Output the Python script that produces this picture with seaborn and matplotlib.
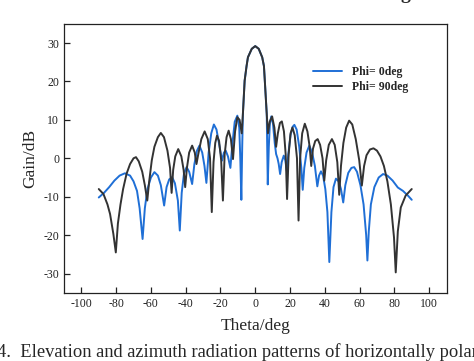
import matplotlib
matplotlib.use('Agg')
import matplotlib.pyplot as plt
import seaborn as sns
import pandas as pd

# Gain pattern (theta in deg, gain in dB)
theta_90 = [-90, -87.3, -85, -83.5, -81.6, -80.2, -79, -77.5, -76, -74, -72, -70, -68.6, -67, -65,
            -63.5, -62.1, -61, -59.5, -58, -56, -54.3, -52.5, -50.5, -49, -48.1, -47.2, -46, -44.3,
            -42.5, -41.2, -40.3, -39.3, -38, -36.3, -34.8, -33.8, -32.8, -31, -29.1, -27.3, -26, -25,
            -24, -23, -22, -20.8, -19.6, -18.6, -17.6, -16.5, -15.3, -14, -12.8, -11.6, -10.3, -9,
            -7.8, -7.1, -6.1, -5, -4.2, -2, 0, 2, 4, 5, 5.5, 6.6, 7.3, 8.3, 9.7, 11, 12, 13, 14.2,
            15.3, 16.5, 17.5, 18.3, 19.2, 20.3, 21.4, 22.7, 24, 24.9, 25.8, 27, 28.5, 30, 31.3, 32.2,
            33.2, 34.5, 35.9, 37.3, 38.7, 39.7, 40.8, 42.3, 44.1, 45.7, 47.2, 48.3, 49.3, 50.7, 52.3,
            54, 55.8, 57.8, 59.8, 61.3, 62.6, 64, 66, 68, 70, 72, 74, 76, 78, 79.8, 80.8, 82, 83.7,
            86.5, 90]
gain_90 = [-8, -9.3, -12, -14.5, -19.7, -24.5, -17, -12, -8, -4, -1.5, 0, 0.3, -0.8, -3.5,
           -7, -11, -6, -0.5, 3, 5.5, 6.6, 5.5, 2, -2.5, -9, -3, 0.5, 2.4,
           0.5, -3, -7.5, -2.5, 1.5, 3.3, 1.5, -1.5, 1, 5, 7, 5, 0, -14,
           -1, 4, 5.9, 4.5, -0.5, -11, 1, 5.5, 7.2, 5, -0.2, 7, 10.7, 10,
           6.5, 11.6, 20.2, 24, 26.3, 28.5, 29.2, 28.5, 26.3, 24, 20.2, 11.6, 6.5, 9.5, 10.9, 8, 3, 6.5, 9.2,
           9.6, 7, 1, -10.6, 1, 6.5, 8, 6, 0, -16.2, 0, 6.5, 9, 7, 3, -2,
           2.5, 4.5, 5, 3.5, 0, -5.8, -0.5, 3.5, 5, 3.5, -1, -9.5, -2, 4, 8,
           9.8, 8.8, 5, -0.5, -7.1, -2, 0.8, 2.3, 2.6, 2, 0.5, -2, -6, -12, -20.6, -29.7, -19, -12.8,
           -9.7, -8]

theta_0 = [-90, -87, -84, -81, -78, -75, -72, -70, -68, -66.5, -64.8, -63.5, -62, -60, -58, -56,
           -54.3, -52.4, -51, -49.5, -47.8, -46.2, -44.5, -43.4, -42.3, -41, -39.5, -38, -36.3, -35,
           -33.5, -32.1, -30.5, -29.2, -28.1, -26.8, -25.3, -23.8, -22.3, -20.5, -19.1, -18, -17,
           -15.7, -14.3, -13.2, -11.8, -10.3, -9.2, -8.6, -8, -7.5, -7.1, -6.1, -5, -4.2, -2, 0, 2,
           4, 5, 5.5, 6.6, 7.2, 7.8, 8.4, 9.2, 10.2, 11.2, 12, 12.8, 13.5, 14.3, 15.2, 16.4, 17.3,
           18.1, 19, 20.3, 21.5, 22.5, 23.8, 25.3, 26.5, 27.3, 28.2, 29.5, 31.1, 32.7, 34.3, 35.7,
           36.7, 37.8, 39, 40.3, 41.5, 42.6, 43.8, 45, 46.4, 48, 49.3, 50.6, 51.8, 53.5, 55.3, 56.9,
           58.5, 60.5, 62.3, 63.8, 64.5, 65.3, 66.5, 68.5, 71, 73.5, 76, 79, 82, 85, 88, 90]
gain_0 = [-10.2, -9, -7.5, -5.8, -4.5, -3.9, -4.5, -6, -8.5, -13, -21, -13, -8, -5, -3.6, -4.5,
          -7, -12.3, -7.5, -5.5, -4.9, -6.5, -11, -18.8, -9, -4, -2.3, -3.5, -6.7, -1.5,
          2, 3.3, 1.5, -2, -6.4, 1.5, 6.5, 8.8, 7.5, 3, -0.6, 1.5, 2,
          0.5, -2.5, 3.5, 9.5, 11.1, 8, 0, -10.8, 3, 11.6, 20.2, 24, 26.3, 28.5, 29.2, 28.5,
          26.3, 24, 20.2, 11.6, -6.8, 3, 9, 10.9, 9, 4, 1.1, 0, -1.5, -4.1, -1, 0.7, -0.5,
          -3.2, 1, 6, 8.2, 8.7, 7.5, 3, -2.5, -8.2, -2.5, 1.5, 3.3, 1.5, -2, -7.3,
          -4.5, -3.4, -4.5, -8, -14, -27, -14, -7.5, -5.3, -6, -8, -11.5, -7, -3.8, -2.5, -2.3,
          -3.5, -7, -12, -20, -26.6, -19, -12, -7.5, -5, -4.1, -4.5, -5.8, -7.6, -8.5, -9.8, -10.8]

x_ticks = [-100, -80, -60, -40, -20, 0, 20, 40, 60, 80, 100]
y_ticks = [-30, -20, -10, 0, 10, 20, 30]

df0 = pd.DataFrame({'theta': theta_0, 'gain': gain_0})
df90 = pd.DataFrame({'theta': theta_90, 'gain': gain_90})

sns.set_style('ticks')
plt.rcParams['font.family'] = ['Liberation Serif', 'DejaVu Serif']
plt.rcParams['axes.unicode_minus'] = False

fig = plt.figure(figsize=(4.74, 3.61), dpi=100)
ax = fig.add_axes([0.135, 0.189, 0.807, 0.745])

sns.lineplot(data=df0, x='theta', y='gain', ax=ax, color='#1f6fd6', lw=1.4,
             estimator=None, label='Phi= 0deg')
sns.lineplot(data=df90, x='theta', y='gain', ax=ax, color='#333333', lw=1.4,
             estimator=None, label='Phi= 90deg')

ax.set_xlim(-110, 110)
ax.set_ylim(-35, 35)
ax.set_xticks(x_ticks)
ax.set_yticks(y_ticks)
ax.tick_params(direction='in', length=4, width=0.9, labelsize=8.5, colors='#222222')
for s in ax.spines.values():
    s.set_linewidth(0.9)
    s.set_color('#222222')

ax.set_xlabel('Theta/deg', fontsize=12.5, labelpad=6)
ax.set_ylabel('Gain/dB', fontsize=12.5, labelpad=4)

ax.legend(loc='center left', bbox_to_anchor=(0.65, 0.793), frameon=False,
          borderpad=0, borderaxespad=0, handlelength=2.45, handletextpad=0.9,
          labelspacing=0.2, prop={'size': 8.5, 'weight': 'bold'})

# bits of the surrounding paper page that the crop keeps
fig.text(-0.007, 0.01, '4.  Elevation and azimuth radiation patterns of horizontally polarized',
         fontsize=13.3, ha='left', va='baseline')
fig.text(0.866, 1.004, 'g', fontsize=14, weight='bold', ha='right', va='baseline')

plt.savefig('out.png', dpi=100)
